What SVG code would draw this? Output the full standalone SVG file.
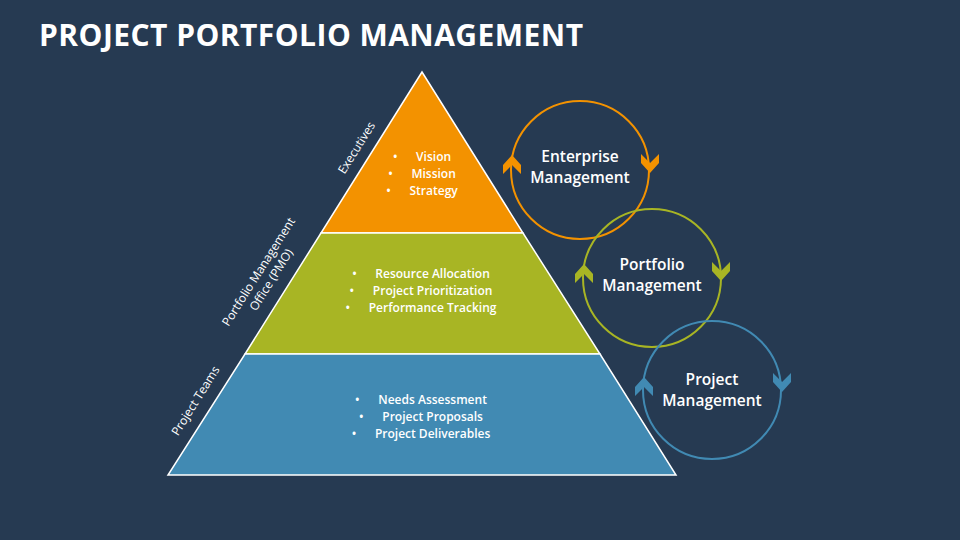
<svg xmlns="http://www.w3.org/2000/svg" width="960" height="540" viewBox="0 0 960 540">
<defs>
<style>
text{font-family:"Open Sans","Liberation Sans",sans-serif;fill:#fff}
.b{font-size:12px;font-weight:600;text-anchor:middle;white-space:pre}
.c{font-size:15.5px;font-weight:600;text-anchor:middle}
.s{font-size:12px}
.ring{fill:none;stroke-width:2}
</style>
<polygon id="chev" points="-9,4 0,-6 9,4 9,13 0,4 -9,13"/>
</defs>
<rect width="960" height="540" fill="#263a52"/>
<text x="39" y="46" textLength="544" style="font-size:30px;font-weight:700;font-family:'Open Sans','Liberation Sans',sans-serif">PROJECT PORTFOLIO MANAGEMENT</text>
<g id="pyramid" stroke="#fff" stroke-width="1.5">
<g id="top"><polygon points="422,72 321,233 523,233" fill="#f39200"/>
<g stroke="none"><text class="b" x="422" y="161">•      Vision</text><text class="b" x="422" y="178">•      Mission</text><text class="b" x="422" y="195">•      Strategy</text></g></g>
<g id="mid"><polygon points="321,233 523,233 600,354 245,354" fill="#a8b524"/>
<g stroke="none"><text class="b" x="421" y="278">•      Resource Allocation</text><text class="b" x="421" y="295">•      Project Prioritization</text><text class="b" x="421" y="312">•      Performance Tracking</text></g></g>
<g id="bot"><polygon points="245,354 600,354 676,475 168,475" fill="#418ab3"/>
<g stroke="none"><text class="b" x="421" y="404">•      Needs Assessment</text><text class="b" x="421" y="421">•      Project Proposals</text><text class="b" x="421" y="438">•      Project Deliverables</text></g></g>
</g>
<g id="labels">
<text class="s" text-anchor="middle" transform="translate(360,150) rotate(-57.8)">Executives</text>
<text class="s" text-anchor="middle" transform="translate(262,274) rotate(-57.8)"><tspan x="0" y="0">Portfolio Management</tspan><tspan x="0" y="15">Office (PMO)</tspan></text>
<text class="s" text-anchor="middle" transform="translate(199,403) rotate(-57.8)">Project Teams</text>
</g>
<g id="enterprise"><circle class="ring" cx="580" cy="170" r="69" stroke="#f39200"/>
<use href="#chev" x="512" y="161" fill="#f39200"/><use href="#chev" transform="translate(650,167) rotate(180)" fill="#f39200"/>
<text class="c" x="580" y="162">Enterprise</text><text class="c" x="580" y="183">Management</text></g>
<g id="portfolio"><circle class="ring" cx="652" cy="278" r="69" stroke="#a8b524"/>
<use href="#chev" x="584" y="270" fill="#a8b524"/><use href="#chev" transform="translate(721,275) rotate(180)" fill="#a8b524"/>
<text class="c" x="652" y="270">Portfolio</text><text class="c" x="652" y="291">Management</text></g>
<g id="project"><circle class="ring" cx="712" cy="390" r="69" stroke="#418ab3"/>
<use href="#chev" x="644" y="383" fill="#418ab3"/><use href="#chev" transform="translate(782,386) rotate(180)" fill="#418ab3"/>
<text class="c" x="712" y="385">Project</text><text class="c" x="712" y="406">Management</text></g>
</svg>
